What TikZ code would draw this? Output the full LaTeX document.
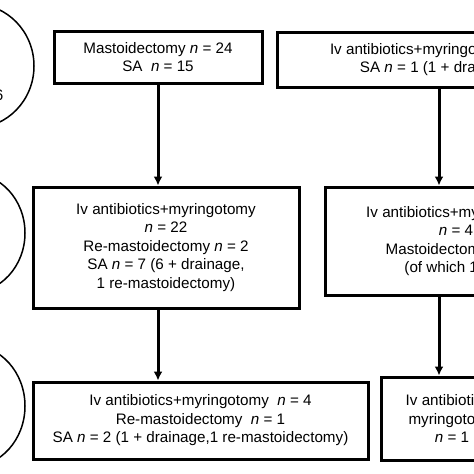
\documentclass[tikz,border=0pt]{standalone}
\usepackage{fontspec}
\setmainfont{Liberation Sans}
\usetikzlibrary{arrows.meta}
\tikzset{
  box/.style={draw, line width=3pt, inner sep=0pt, align=center, font=\fontsize{15.2}{18.5}\selectfont},
  arr/.style={line width=3pt, -{Latex[length=9pt,width=9pt]}},
  group/.style={line width=1.5pt}
}
\newcommand{\nn}{\textit{n}}
\begin{document}
\begin{tikzpicture}[x=1pt,y=-1pt]
\useasboundingbox (0,0) rectangle (474,474);
\clip (0,0) rectangle (474,474);
\draw[group] (-26,66) ellipse (60 and 62);
\draw[group] (-30,233) ellipse (55 and 60);
\draw[group] (-30,406) ellipse (55 and 61);
\node[anchor=east, font=\fontsize{15.2}{18.5}\selectfont] (total) at (7,95) {\nn{} = 46};
\node[box, minimum width=208pt, minimum height=52pt] (mast) at (158,57) {Mastoidectomy \nn{} = 24\\SA~~\nn{} = 15};
\node[box, minimum width=324pt, minimum height=55pt] (ivsa) at (439,59.5) {Iv antibiotics+myringotomy \nn{} = 5\\SA \nn{} = 1 (1 + drainage)};
\node[box, minimum width=266pt, minimum height=121pt] (ivleft) at (166,247.5) {Iv antibiotics+myringotomy\\\nn{} = 22\\Re-mastoidectomy \nn{} = 2\\SA \nn{} = 7 (6 + drainage,\\1 re-mastoidectomy)};
\node[box, minimum width=262pt, minimum height=108pt] (ivright) at (456,241) {Iv antibiotics+myringotomy\\\nn{} = 4\\Mastoidectomy \nn{} = 2\\(of which 1 SA)};
\node[box, minimum width=335pt, minimum height=77pt] (lastleft) at (200.5,420.5) {Iv antibiotics+myringotomy~~\nn{} = 4\\Re-mastoidectomy~~\nn{} = 1\\SA \nn{} = 2 (1 + drainage,1 re-mastoidectomy)};
\node[box, minimum width=142pt, minimum height=83pt] (lastright) at (452,418.5) {Iv antibiotics+\\myringotomy\\\nn{} = 1};
\draw[arr] (mast.south) -- (mast.south |- ivleft.north);
\draw[arr] (mast.south |- ivleft.south) -- (mast.south |- lastleft.north);
\draw[arr] (ivsa.south) -- (ivsa.south |- ivright.north);
\draw[arr] (ivsa.south |- ivright.south) -- (ivsa.south |- lastright.north);
\end{tikzpicture}
\end{document}
